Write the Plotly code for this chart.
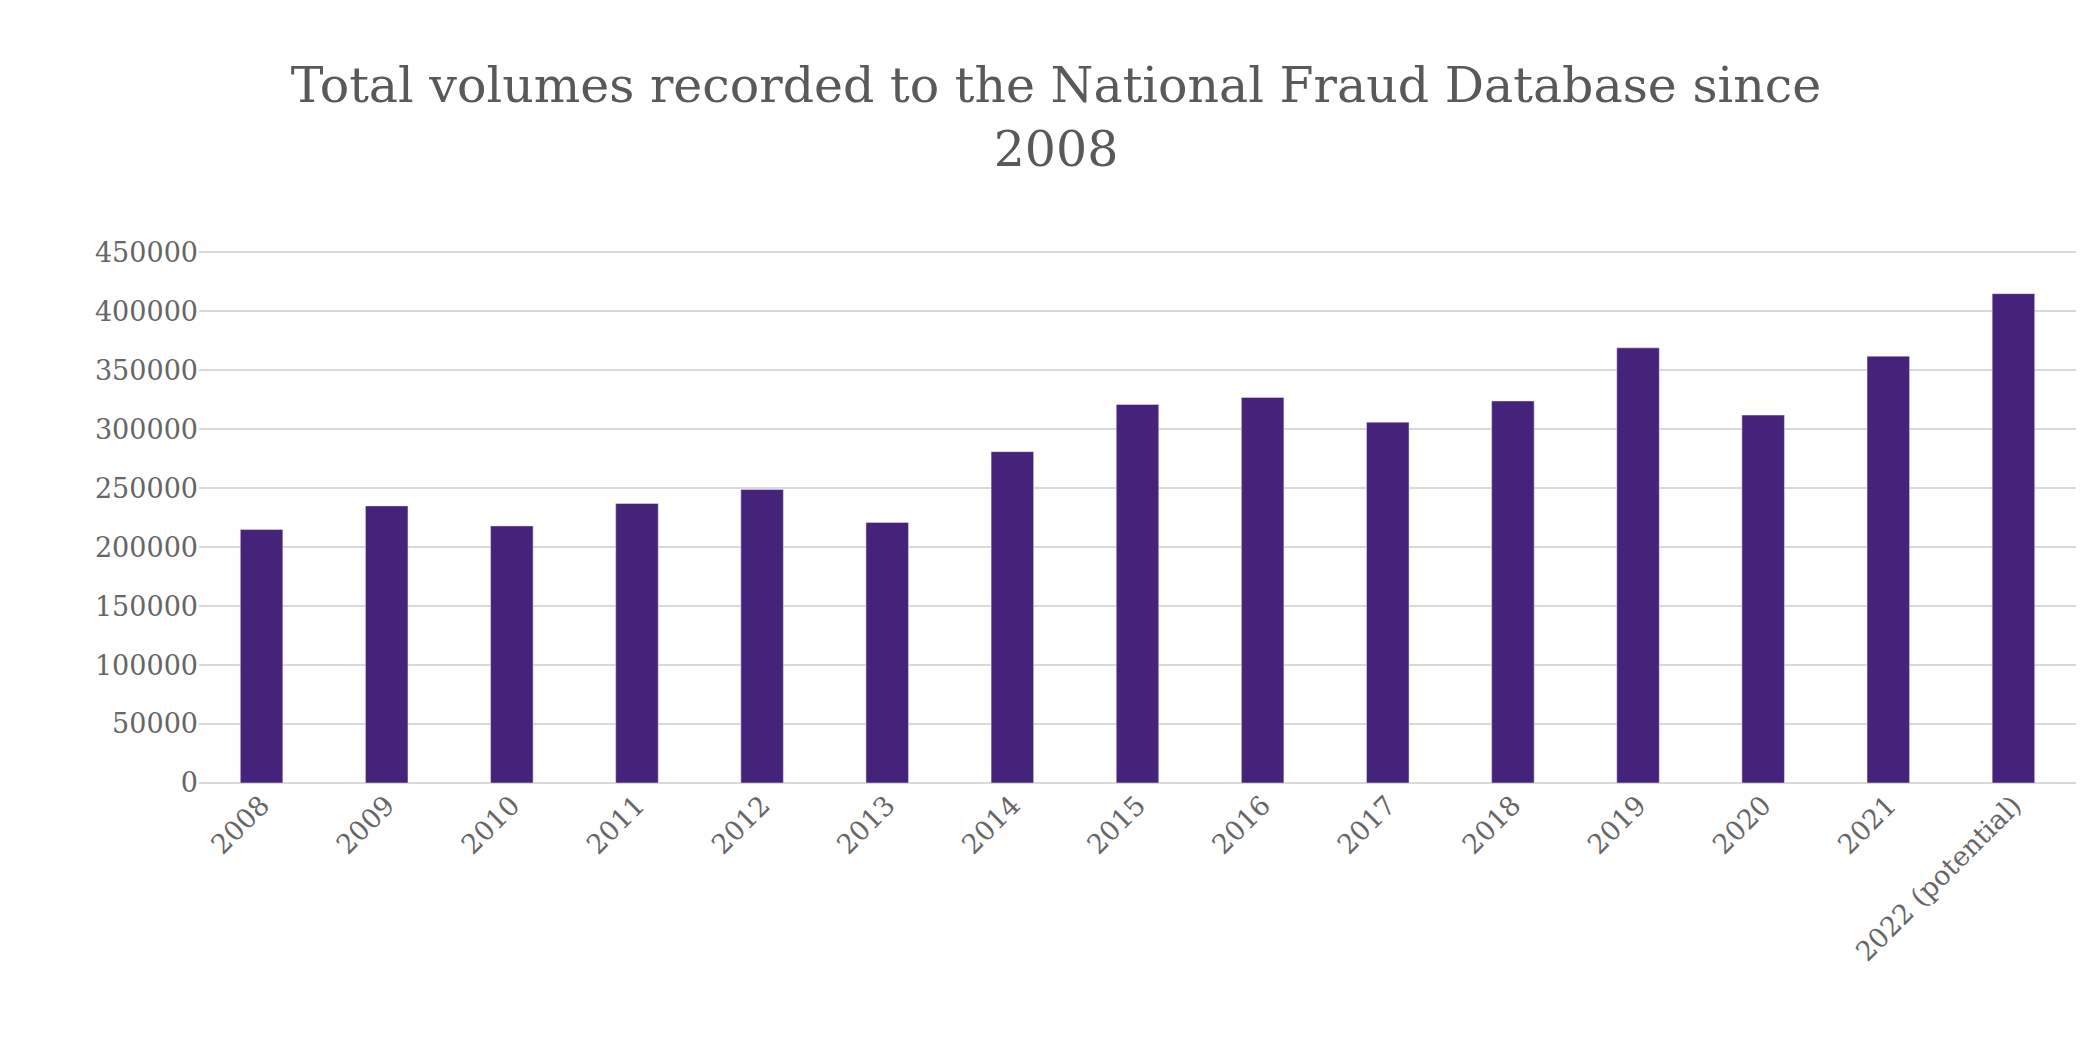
import plotly.graph_objects as go

years = ["2008","2009","2010","2011","2012","2013","2014","2015","2016","2017","2018","2019","2020","2021","2022 (potential)"]
volumes = [215000,235000,218000,237000,249000,221000,281000,321000,327000,306000,324000,369000,312000,362000,415000]

fig = go.Figure(go.Bar(x=years, y=volumes, marker_color="#46237a", width=0.34))
fig.update_layout(
    width=2096, height=1048,
    paper_bgcolor="white", plot_bgcolor="white",
    font=dict(family="DejaVu Serif", color="#666666", size=27),
    title=dict(text="Total volumes recorded to the National Fraud Database since<br>2008",
               x=0.5, xanchor="center", y=0.91, yanchor="top",
               font=dict(size=49, color="#595959")),
    margin=dict(l=191, r=28, t=242, b=273),
    bargap=0.66,
)
fig.update_yaxes(range=[0,452000], tickvals=list(range(0,450001,50000)), showgrid=True, gridcolor="#d9d9d9", gridwidth=2,
                 zeroline=True, zerolinecolor="#d9d9d9", zerolinewidth=2, tickformat="d",
                 ticklen=0, ticks="", tickfont=dict(size=27))
fig.update_xaxes(tickangle=-45, showline=False, tickfont=dict(size=27))
fig.write_html("out.html")
